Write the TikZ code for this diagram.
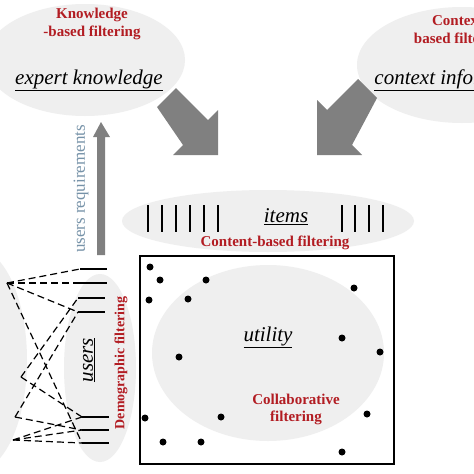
\documentclass[tikz,border=0pt]{standalone}
\usepackage{fontspec}
\setmainfont{Liberation Serif}
\definecolor{fillgray}{RGB}{239,239,239}
\definecolor{arrgray}{RGB}{128,128,128}
\definecolor{redtxt}{RGB}{178,28,34}
\definecolor{bluetxt}{RGB}{118,146,168}
\tikzset{
  blob/.style={fill=fillgray, draw=none},
  redlbl/.style={text=redtxt, font=\fontsize{15}{17}\selectfont\bfseries, align=center, inner sep=0},
  itlbl/.style={font=\fontsize{21}{23}\selectfont\itshape, inner sep=0},
  bar/.style={line width=2pt},
  dotmark/.style={circle, fill=black, inner sep=0, minimum size=7pt},
  userdash/.style={line width=1.2pt, dash pattern=on 7pt off 4pt},
  bigarrow/.style={fill=arrgray, draw=none},
}
\begin{document}
\begin{tikzpicture}[x=1pt, y=-1pt]
\useasboundingbox (0,0) rectangle (474,474);
\clip (0,0) rectangle (474,474);
\fill[white] (0,0) rectangle (474,474);
% background blobs
\fill[blob] (85,60) ellipse [x radius=100pt, y radius=56pt];
\fill[blob] (462,65) ellipse [x radius=105pt, y radius=58pt];
\fill[blob] (268,221) ellipse [x radius=146pt, y radius=31pt];
\fill[blob] (-25,360) ellipse [x radius=52pt, y radius=112pt];
\fill[blob] (100,368) ellipse [x radius=36pt, y radius=94pt];
% top labels
\node[redlbl] (kbf) at (92,24) {Knowledge\\[1pt]-based filtering};
\node[itlbl] (expk) at (89,80) {\underline{expert knowledge}};
\node[redlbl] (cbf) at (460,31) {Context-\\[1pt]based filtering};
\node[itlbl] (ctxi) at (457,80) {\underline{context information}};
% big arrows
\fill[bigarrow] (157,107) -- (176,88) -- (208,120) -- (218,110) -- (218,155) -- (173,155) -- (183,145) -- cycle;
\fill[bigarrow] (377,98) -- (358,79) -- (327,110) -- (317,100) -- (317,155) -- (362,155) -- (352,145) -- cycle;
% users requirements arrow
\fill[bigarrow] (97,255) -- (105,255) -- (105,137) -- (110,137) -- (101,122) -- (93,137) -- (97,137) -- cycle;
\node[rotate=90, text=bluetxt, font=\fontsize{17}{19}\selectfont, inner sep=0] (ureq) at (81,189) {users requirements};
% items
\foreach \x in {148,162,176,190,204,218,342,355,369,383} \draw[bar] (\x,205) -- (\x,232);
\node[itlbl] (items) at (286,217) {\underline{items}};
\node[redlbl] (contf) at (275,243) {Content-based filtering};
% matrix box
\fill[blob] (268,353) ellipse [x radius=116pt, y radius=88pt];
\draw[line width=1.8pt] (140,256) rectangle (394,464);
\node[itlbl] (util) at (268,337) {\underline{utility}};
\node[redlbl] (collf) at (296,409) {Collaborative\\[0pt]filtering};
\foreach \p [count=\i] in {(150,267),(160,280),(206,280),(149,300),(188,299),(354,288),(179,357),(342,338),(380,352),(367,414),(145,418),(221,417),(163,442),(201,442),(342,452)}
  \node[dotmark] (d\i) at \p {};
% users
\node[rotate=90, itlbl] (users) at (89,360) {\underline{users}};
\node[rotate=90, redlbl, font=\fontsize{14}{16}\selectfont\bfseries] (demof) at (121,363) {Demographic filtering};
\foreach \n/\x/\y in {t1/80/269, t2/80/283, t3/78/298, t4/78/312, b1/82/417, b2/82/430, b3/82/443} {
  \coordinate (\n) at (\x,\y);
  \draw[bar] (\n) -- ++(27,0);
}
\coordinate (v1) at (7,283);
\coordinate (v2) at (21,377);
\coordinate (v3) at (15,417);
\coordinate (v4) at (13,440);
\draw[userdash] (v1) -- (t1);
\draw[userdash] (v1) -- (t2);
\draw[userdash] (v1) -- (t4);
\draw[userdash] (v1) -- (b3);
\draw[userdash] (v2) -- (t3);
\draw[userdash] (v2) -- (b1);
\draw[userdash] (v3) -- (t4);
\draw[userdash] (v3) -- (b2);
\draw[userdash] (v4) -- (b1);
\draw[userdash] (v4) -- (b2);
\draw[userdash] (v4) -- (b3);
\end{tikzpicture}
\end{document}
